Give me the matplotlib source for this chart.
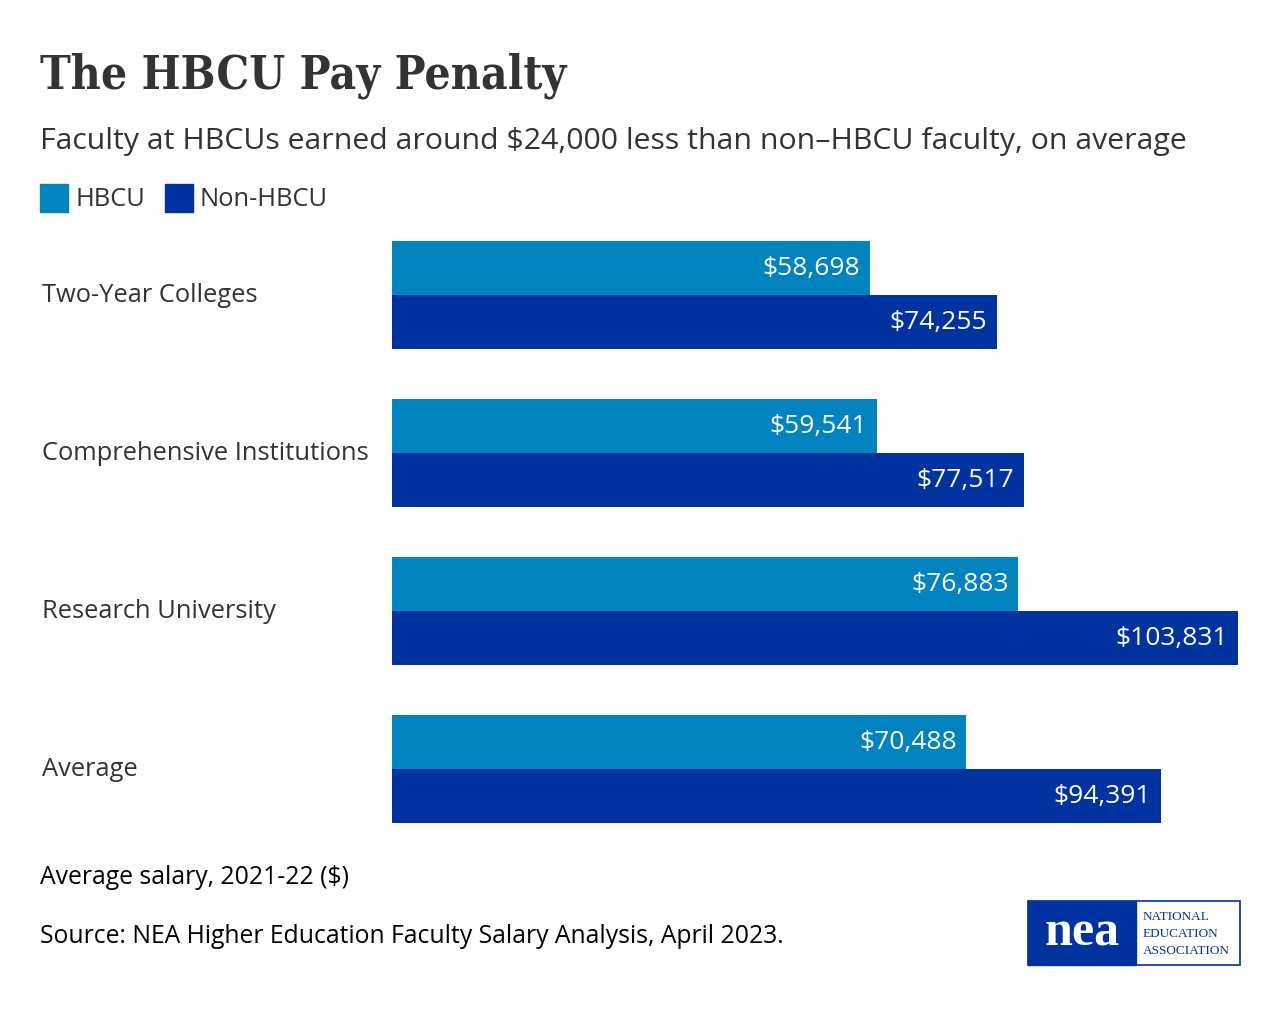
import matplotlib.pyplot as plt
from matplotlib.patches import Rectangle

categories = ["Two-Year Colleges", "Comprehensive Institutions", "Research University", "Average"]
hbcu = [58698, 59541, 76883, 70488]
non_hbcu = [74255, 77517, 103831, 94391]

C_HBCU = "#0083BE"
C_NON = "#0033A0"
W, H = 1280, 1012

fig = plt.figure(figsize=(W / 100, H / 100), dpi=100)
fig.patch.set_facecolor("white")
ax = fig.add_axes([392 / W, 1 - 824 / H, (1238 - 392) / W, (824 - 242) / H])
ax.set_xlim(0, max(non_hbcu))
ax.set_ylim(582, 0)
ax.axis("off")

sans = "Open Sans"
for i, (cat, a, b) in enumerate(zip(categories, hbcu, non_hbcu)):
    y0 = 27 + 158 * i
    ax.barh(y0, a, height=54, color=C_HBCU)
    ax.barh(y0 + 54, b, height=54, color=C_NON)
    ax.text(a - 1200, y0, f"${a:,}", color="white", ha="right", va="center",
            fontsize=19, family=sans)
    ax.text(b - 1200, y0 + 54, f"${b:,}", color="white", ha="right", va="center",
            fontsize=19, family=sans)
    fig.text(42 / W, 1 - (296 + 158 * i) / H, cat, fontsize=18.4, family=sans,
             color="#333333", va="center")

# condensed serif keeps the title width close to the original
fig.text(40 / W, 1 - 76 / H, "The HBCU Pay Penalty", fontsize=33, family="DejaVu Serif",
         weight="bold", stretch="condensed", color="#333333", va="center")
fig.text(40 / W, 1 - 141 / H,
         "Faculty at HBCUs earned around $24,000 less than non\u2013HBCU faculty, on average",
         fontsize=21.8, family=sans, color="#333333", va="center")

fig.patches.append(Rectangle((40 / W, 1 - 213 / H), 28 / W, 28 / H, color=C_HBCU,
                             transform=fig.transFigure))
fig.text(75 / W, 1 - 199 / H, "HBCU", fontsize=18.4, family=sans, color="#333333", va="center")
fig.patches.append(Rectangle((165 / W, 1 - 213 / H), 28 / W, 28 / H, color=C_NON,
                             transform=fig.transFigure))
fig.text(200 / W, 1 - 199 / H, "Non-HBCU", fontsize=18.4, family=sans, color="#333333", va="center")

fig.text(40 / W, 1 - 878 / H, "Average salary, 2021-22 ($)", fontsize=17.8, family=sans,
         color="black", va="center")
fig.text(40 / W, 1 - 937 / H, "Source: NEA Higher Education Faculty Salary Analysis, April 2023.",
         fontsize=17.8, family=sans, color="black", va="center")

# logo
fig.patches.append(Rectangle((1028 / W, 1 - 966 / H), 212 / W, 64 / H, facecolor="white",
                             edgecolor=C_NON, lw=1.2, transform=fig.transFigure))
fig.patches.append(Rectangle((1028 / W, 1 - 966 / H), 108 / W, 64 / H, color=C_NON,
                             transform=fig.transFigure))
fig.text(1082 / W, 1 - 934 / H, "nea", fontsize=36, family="Liberation Serif",
         weight="bold", color="white", ha="center", va="center")
for k, word in enumerate(["NATIONAL", "EDUCATION", "ASSOCIATION"]):
    fig.text(1143 / W, 1 - (917 + 17 * k) / H, word, fontsize=9.5, family="Liberation Serif",
             color=C_NON, va="center")

fig.savefig("out.png", dpi=100)
